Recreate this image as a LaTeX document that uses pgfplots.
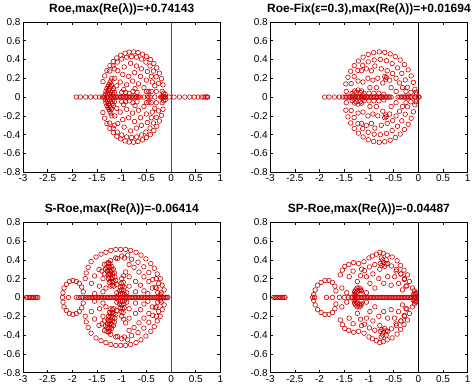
\documentclass[border=0pt]{standalone}
\usepackage{pgfplots}
\pgfplotsset{compat=1.18}
\usepackage{fontspec}
\setmainfont{Liberation Sans}
\definecolor{ered}{RGB}{205,0,0}
\pgfplotsset{myax/.style={
  width=198pt,height=151pt,scale only axis,
  xmin=-3,xmax=1,ymin=-0.8,ymax=0.8,
  xtick={-3,-2.5,-2,-1.5,-1,-0.5,0,0.5,1},
  ytick={-0.8,-0.6,-0.4,-0.2,0,0.2,0.4,0.6,0.8},
  tick align=inside, major tick length=3pt,
  tick style={black,line width=0.5pt},
  ticklabel style={font=\fontsize{10}{12}\selectfont},
  xticklabel style={yshift=1pt},
  yticklabel style={xshift=1pt},
  /pgf/number format/assume math mode=true,
  title style={font=\bfseries\fontsize{12}{14}\selectfont,yshift=-2.5pt},
  axis line style={line width=0.5pt},
  clip=true},
  eig/.style={only marks, mark=o, mark size=2.3pt, color=ered, mark options={line width=0.6pt}}
}
\begin{document}
\begin{tikzpicture}
\path (0,0) rectangle (474pt,-386pt);
% ---------- Plot 1
\begin{axis}[myax, at={(22pt,-19pt)}, anchor=north west,
  title={Roe,max(Re(λ))=+0.74143}]
\addplot[black!70, line width=0.9pt] coordinates {(0,-0.8) (0,0.8)};
\addplot[eig] coordinates {
(-1.92,0)(-1.84,0)(-1.73,0)(-1.63,0)(-1.53,0)(-1.45,0)(-1.39,0)(-1.35,0)(-1.32,0)(-1.29,0)(-1.26,0)(-1.23,0)(-1.20,0)(-1.17,0)(-1.14,0)(-1.11,0)(-1.08,0)(-1.05,0)(-1.02,0)(-0.99,0)(-0.96,0)(-0.93,0)(-0.90,0)(-0.87,0)(-0.84,0)(-0.81,0)(-0.78,0)(-0.75,0)(-0.72,0)(-0.69,0)(-0.66,0)(-0.62,0)(-0.55,0)(-0.48,0)(-0.45,0)(-0.42,0)(-0.33,0)(-0.21,0)(-0.19,0)(-0.17,0)(-0.15,0)(-0.13,0)(-0.11,0)(-0.04,0)(0.06,0)(0.17,0)(0.28,0)(0.38,0)(0.47,0)(0.55,0)(0.62,0)(0.67,0)(0.71,0)(0.735,0)(0.74143,0)
};
\addplot[eig] coordinates {
(-0.165,0.13)(-0.195,0.195)(-0.237,0.254)(-0.29,0.31)(-0.35,0.357)(-0.42,0.40)(-0.50,0.43)(-0.58,0.456)(-0.67,0.473)(-0.76,0.48)(-0.85,0.478)(-0.93,0.466)(-1.02,0.445)(-1.10,0.416)(-1.17,0.378)(-1.24,0.334)(-1.30,0.282)(-1.345,0.225)(-1.38,0.164)
(-0.255,0.147)(-0.30,0.215)(-0.356,0.276)(-0.427,0.33)(-0.51,0.372)(-0.60,0.404)(-0.70,0.424)(-0.80,0.43)(-0.90,0.424)(-1.00,0.404)(-1.09,0.372)(-1.173,0.33)(-1.244,0.276)
(-0.95,0.32)(-0.82,0.36)(-0.70,0.33)(-0.60,0.30)(-0.48,0.27)(-0.40,0.22)(-0.33,0.12)(-0.38,0.16)(-0.50,0.18)(-0.62,0.22)(-0.74,0.26)(-0.86,0.22)(-0.98,0.24)(-1.08,0.28)(-1.15,0.30)(-1.03,0.16)(-0.90,0.13)(-0.78,0.17)(-0.66,0.14)(-0.55,0.10)(-0.45,0.06)(-0.40,0.06)(-0.50,0.06)(-0.30,0.06)(-0.18,0.06)(-0.15,0.04)(-0.12,0.03)(-0.73,0.09)(-0.77,0.06)(-0.69,0.05)(-1.0,0.05)(-0.96,0.08)(-0.92,0.05)(-0.85,0.04)(-1.14,0.20)(-1.10,0.12)
(-1.33,0.03)(-1.32,0.06)(-1.30,0.09)(-1.28,0.11)(-1.26,0.13)(-1.24,0.15)(-1.22,0.17)(-1.20,0.20)(-1.29,0.04)(-1.27,0.07)(-1.25,0.09)(-1.23,0.11)(-1.21,0.13)(-1.25,0.03)(-1.22,0.05)(-1.19,0.07)(-1.17,0.09)(-1.18,0.03)(-1.15,0.05)
};
\addplot[eig] coordinates {
(-0.165,-0.13)(-0.195,-0.195)(-0.237,-0.254)(-0.29,-0.31)(-0.35,-0.357)(-0.42,-0.40)(-0.50,-0.43)(-0.58,-0.456)(-0.67,-0.473)(-0.76,-0.48)(-0.85,-0.478)(-0.93,-0.466)(-1.02,-0.445)(-1.10,-0.416)(-1.17,-0.378)(-1.24,-0.334)(-1.30,-0.282)(-1.345,-0.225)(-1.38,-0.164)
(-0.255,-0.147)(-0.30,-0.215)(-0.356,-0.276)(-0.427,-0.33)(-0.51,-0.372)(-0.60,-0.404)(-0.70,-0.424)(-0.80,-0.43)(-0.90,-0.424)(-1.00,-0.404)(-1.09,-0.372)(-1.173,-0.33)(-1.244,-0.276)
(-0.95,-0.32)(-0.82,-0.36)(-0.70,-0.33)(-0.60,-0.30)(-0.48,-0.27)(-0.40,-0.22)(-0.33,-0.12)(-0.38,-0.16)(-0.50,-0.18)(-0.62,-0.22)(-0.74,-0.26)(-0.86,-0.22)(-0.98,-0.24)(-1.08,-0.28)(-1.15,-0.30)(-1.03,-0.16)(-0.90,-0.13)(-0.78,-0.17)(-0.66,-0.14)(-0.55,-0.10)(-0.45,-0.06)(-0.40,-0.06)(-0.50,-0.06)(-0.30,-0.06)(-0.18,-0.06)(-0.15,-0.04)(-0.12,-0.03)(-0.73,-0.09)(-0.77,-0.06)(-0.69,-0.05)(-1.0,-0.05)(-0.96,-0.08)(-0.92,-0.05)(-0.85,-0.04)(-1.14,-0.20)(-1.10,-0.12)
(-1.33,-0.03)(-1.32,-0.06)(-1.30,-0.09)(-1.28,-0.11)(-1.26,-0.13)(-1.24,-0.15)(-1.22,-0.17)(-1.20,-0.20)(-1.29,-0.04)(-1.27,-0.07)(-1.25,-0.09)(-1.23,-0.11)(-1.21,-0.13)(-1.25,-0.03)(-1.22,-0.05)(-1.19,-0.07)(-1.17,-0.09)(-1.18,-0.03)(-1.15,-0.05)
};
\end{axis}
% ---------- Plot 2
\begin{axis}[myax, at={(270pt,-19pt)}, anchor=north west,
  title={Roe-Fix(ε=0.3),max(Re(λ))=+0.01694}]
\addplot[black, line width=0.5pt] coordinates {(0,-0.8) (0,0.8)};
\addplot[eig] coordinates {
(-1.90,0)(-1.81,0)(-1.70,0)(-1.60,0)(-1.53,0)(-1.48,0)(-1.45,0)(-1.42,0)(-1.39,0)(-1.36,0)(-1.33,0)(-1.30,0)(-1.27,0)(-1.24,0)(-1.21,0)(-1.18,0)(-1.15,0)(-1.12,0)(-1.09,0)(-1.06,0)(-1.03,0)(-1.00,0)(-0.97,0)(-0.94,0)(-0.91,0)(-0.88,0)(-0.85,0)(-0.82,0)(-0.79,0)(-0.76,0)(-0.73,0)(-0.70,0)(-0.67,0)(-0.64,0)(-0.61,0)(-0.58,0)(-0.55,0)(-0.41,0)(-0.37,0)(-0.34,0)(-0.31,0)(-0.28,0)(-0.25,0)(-0.22,0)(-0.19,0)(-0.16,0)(-0.13,0)(-0.06,0)(0.00,0)(0.01694,0)
};
\addplot[eig] coordinates {
(-0.07,0.083)(-0.10,0.156)(-0.144,0.225)(-0.205,0.289)(-0.28,0.345)(-0.367,0.393)(-0.465,0.43)(-0.57,0.459)(-0.68,0.475)(-0.79,0.48)(-0.905,0.473)(-1.015,0.454)(-1.118,0.424)(-1.213,0.383)(-1.298,0.334)(-1.37,0.275)(-1.427,0.21)(-1.468,0.14)
(-0.22,0.104)(-0.265,0.182)(-0.334,0.252)(-0.42,0.31)(-0.53,0.356)(-0.645,0.386)(-0.77,0.40)(-0.894,0.395)(-1.015,0.374)(-1.127,0.336)(-1.224,0.283)(-1.30,0.218)(-1.36,0.143)
(-1.15,0.28)(-1.05,0.30)(-0.95,0.28)(-0.88,0.33)(-0.75,0.30)(-0.63,0.28)(-0.52,0.25)(-0.45,0.20)(-0.38,0.15)(-0.32,0.10)(-0.58,0.18)(-0.65,0.21)(-0.66,0.19)(-0.68,0.22)(-0.72,0.15)(-0.82,0.20)(-0.92,0.18)(-1.02,0.20)(-1.12,0.16)(-1.22,0.17)(-0.85,0.10)(-0.98,0.10)(-0.55,0.10)(-0.45,0.06)(-0.25,0.06)(-0.15,0.05)(-0.05,0.05)(-0.04,0.03)(-1.46,0.06)(-0.9,0.04)(-0.8,0.04)(-0.7,0.03)(-1.0,0.04)
(-1.10,0.038)(-1.15,0.065)(-1.22,0.075)(-1.29,0.065)(-1.34,0.038)(-1.13,0.02)(-1.18,0.05)(-1.26,0.05)(-1.31,0.02)
};
\addplot[eig] coordinates {
(-0.07,-0.083)(-0.10,-0.156)(-0.144,-0.225)(-0.205,-0.289)(-0.28,-0.345)(-0.367,-0.393)(-0.465,-0.43)(-0.57,-0.459)(-0.68,-0.475)(-0.79,-0.48)(-0.905,-0.473)(-1.015,-0.454)(-1.118,-0.424)(-1.213,-0.383)(-1.298,-0.334)(-1.37,-0.275)(-1.427,-0.21)(-1.468,-0.14)
(-0.22,-0.104)(-0.265,-0.182)(-0.334,-0.252)(-0.42,-0.31)(-0.53,-0.356)(-0.645,-0.386)(-0.77,-0.40)(-0.894,-0.395)(-1.015,-0.374)(-1.127,-0.336)(-1.224,-0.283)(-1.30,-0.218)(-1.36,-0.143)
(-1.15,-0.28)(-1.05,-0.30)(-0.95,-0.28)(-0.88,-0.33)(-0.75,-0.30)(-0.63,-0.28)(-0.52,-0.25)(-0.45,-0.20)(-0.38,-0.15)(-0.32,-0.10)(-0.58,-0.18)(-0.65,-0.21)(-0.66,-0.19)(-0.68,-0.22)(-0.72,-0.15)(-0.82,-0.20)(-0.92,-0.18)(-1.02,-0.20)(-1.12,-0.16)(-1.22,-0.17)(-0.85,-0.10)(-0.98,-0.10)(-0.55,-0.10)(-0.45,-0.06)(-0.25,-0.06)(-0.15,-0.05)(-0.05,-0.05)(-0.04,-0.03)(-1.46,-0.06)(-0.9,-0.04)(-0.8,-0.04)(-0.7,-0.03)(-1.0,-0.04)
(-1.10,-0.038)(-1.15,-0.065)(-1.22,-0.075)(-1.29,-0.065)(-1.34,-0.038)(-1.13,-0.02)(-1.18,-0.05)(-1.26,-0.05)(-1.31,-0.02)
};
\end{axis}
% ---------- Plot 3
\begin{axis}[myax, at={(22pt,-220pt)}, anchor=north west,
  title={S-Roe,max(Re(λ))=-0.06414}]
\addplot[black!70, line width=0.9pt] coordinates {(0,-0.8) (0,0.8)};
\addplot[eig] coordinates {
(-2.93,0)(-2.90,0)(-2.87,0)(-2.84,0)(-2.81,0)(-2.78,0)(-2.75,0)(-2.72,0)(-2.70,0)(-2.20,0)(-2.08,0)(-1.92,0)(-1.87,0)(-1.82,0)(-1.78,0)(-1.74,0)(-1.71,0)(-1.68,0)(-1.65,0)(-1.62,0)(-1.59,0)(-1.56,0)(-1.53,0)(-1.50,0)(-1.47,0)(-1.44,0)(-1.41,0)(-1.38,0)(-1.35,0)(-1.32,0)(-1.29,0)(-1.26,0)(-1.23,0)(-1.20,0)(-1.17,0)(-1.14,0)(-1.11,0)(-1.08,0)(-1.05,0)(-1.02,0)(-0.99,0)(-0.96,0)(-0.93,0)(-0.90,0)(-0.87,0)(-0.84,0)(-0.81,0)(-0.78,0)(-0.75,0)(-0.72,0)(-0.69,0)(-0.66,0)(-0.63,0)(-0.60,0)(-0.57,0)(-0.54,0)(-0.51,0)(-0.48,0)(-0.45,0)(-0.42,0)(-0.39,0)(-0.36,0)(-0.33,0)(-0.30,0)(-0.27,0)(-0.24,0)(-0.21,0)(-0.18,0)(-0.15,0)(-0.12,0)(-0.10,0)(-0.08,0)(-0.06414,0)
};
\addplot[eig] coordinates {
(-2.19,0.05)(-2.17,0.10)(-2.12,0.14)(-2.06,0.17)(-1.99,0.18)(-1.92,0.17)(-1.86,0.15)(-1.81,0.11)(-1.78,0.06)
(-1.74,0.20)(-1.72,0.26)(-1.68,0.32)(-1.62,0.38)(-1.52,0.43)(-1.42,0.46)(-1.32,0.48)(-1.22,0.50)(-1.12,0.51)(-1.02,0.51)(-0.92,0.51)(-0.82,0.50)(-0.71,0.48)(-0.61,0.45)(-0.51,0.41)(-0.41,0.36)(-0.34,0.31)(-0.28,0.25)(-0.22,0.20)(-0.18,0.13)(-0.14,0.08)
(-0.32,0.109)(-0.374,0.19)(-0.45,0.264)(-0.552,0.326)(-0.67,0.374)(-0.80,0.406)(-0.945,0.42)(-1.086,0.415)(-1.223,0.392)(-1.35,0.352)(-1.46,0.297)(-1.55,0.229)(-1.615,0.15)
(-1.30,0.36)(-1.27,0.37)(-1.24,0.36)(-1.30,0.32)(-1.27,0.33)(-1.24,0.32)(-1.21,0.33)(-1.29,0.28)(-1.26,0.29)(-1.23,0.28)(-1.20,0.29)(-1.28,0.24)(-1.25,0.25)(-1.22,0.24)(-1.19,0.25)(-1.27,0.20)(-1.24,0.21)(-1.21,0.20)(-1.18,0.21)(-1.25,0.16)(-1.22,0.17)(-1.19,0.16)(-1.16,0.17)(-1.22,0.12)(-1.19,0.13)(-1.16,0.12)
(-1.33,0.30)(-1.35,0.25)(-1.14,0.22)(-1.12,0.18)(-1.10,0.14)(-1.17,0.30)(-1.15,0.26)
(-1.02,0.04)(-0.98,0.04)(-1.04,0.07)(-1.00,0.08)(-0.96,0.07)(-1.03,0.11)(-0.99,0.12)(-0.95,0.11)(-1.01,0.15)(-0.97,0.16)(-1.0,0.20)(-0.96,0.23)(-0.92,0.27)(-1.06,0.03)(-0.94,0.03)(-0.9,0.05)(-1.1,0.05)
(-1.45,0.12)(-1.38,0.20)(-1.40,0.28)(-1.12,0.42)(-1.0,0.44)(-0.85,0.35)(-0.75,0.32)(-0.65,0.27)(-0.55,0.22)(-0.45,0.17)(-0.38,0.10)(-0.30,0.10)(-0.25,0.15)(-0.27,0.05)(-0.22,0.03)(-0.20,0.05)(-0.62,0.13)(-0.72,0.17)(-0.85,0.22)(-0.85,0.12)(-0.72,0.06)(-0.55,0.07)(-0.47,0.04)(-1.38,0.06)(-1.55,0.04)(-1.32,0.10)(-0.30,0.20)(-0.88,0.45)
};
\addplot[eig] coordinates {
(-2.19,-0.05)(-2.17,-0.10)(-2.12,-0.14)(-2.06,-0.17)(-1.99,-0.18)(-1.92,-0.17)(-1.86,-0.15)(-1.81,-0.11)(-1.78,-0.06)
(-1.74,-0.20)(-1.72,-0.26)(-1.68,-0.32)(-1.62,-0.38)(-1.52,-0.43)(-1.42,-0.46)(-1.32,-0.48)(-1.22,-0.50)(-1.12,-0.51)(-1.02,-0.51)(-0.92,-0.51)(-0.82,-0.50)(-0.71,-0.48)(-0.61,-0.45)(-0.51,-0.41)(-0.41,-0.36)(-0.34,-0.31)(-0.28,-0.25)(-0.22,-0.20)(-0.18,-0.13)(-0.14,-0.08)
(-0.32,-0.109)(-0.374,-0.19)(-0.45,-0.264)(-0.552,-0.326)(-0.67,-0.374)(-0.80,-0.406)(-0.945,-0.42)(-1.086,-0.415)(-1.223,-0.392)(-1.35,-0.352)(-1.46,-0.297)(-1.55,-0.229)(-1.615,-0.15)
(-1.30,-0.36)(-1.27,-0.37)(-1.24,-0.36)(-1.30,-0.32)(-1.27,-0.33)(-1.24,-0.32)(-1.21,-0.33)(-1.29,-0.28)(-1.26,-0.29)(-1.23,-0.28)(-1.20,-0.29)(-1.28,-0.24)(-1.25,-0.25)(-1.22,-0.24)(-1.19,-0.25)(-1.27,-0.20)(-1.24,-0.21)(-1.21,-0.20)(-1.18,-0.21)(-1.25,-0.16)(-1.22,-0.17)(-1.19,-0.16)(-1.16,-0.17)(-1.22,-0.12)(-1.19,-0.13)(-1.16,-0.12)
(-1.33,-0.30)(-1.35,-0.25)(-1.14,-0.22)(-1.12,-0.18)(-1.10,-0.14)(-1.17,-0.30)(-1.15,-0.26)
(-1.02,-0.04)(-0.98,-0.04)(-1.04,-0.07)(-1.00,-0.08)(-0.96,-0.07)(-1.03,-0.11)(-0.99,-0.12)(-0.95,-0.11)(-1.01,-0.15)(-0.97,-0.16)(-1.0,-0.20)(-0.96,-0.23)(-0.92,-0.27)(-1.06,-0.03)(-0.94,-0.03)(-0.9,-0.05)(-1.1,-0.05)
(-1.45,-0.12)(-1.38,-0.20)(-1.40,-0.28)(-1.12,-0.42)(-1.0,-0.44)(-0.85,-0.35)(-0.75,-0.32)(-0.65,-0.27)(-0.55,-0.22)(-0.45,-0.17)(-0.38,-0.10)(-0.30,-0.10)(-0.25,-0.15)(-0.27,-0.05)(-0.22,-0.03)(-0.20,-0.05)(-0.62,-0.13)(-0.72,-0.17)(-0.85,-0.22)(-0.85,-0.12)(-0.72,-0.06)(-0.55,-0.07)(-0.47,-0.04)(-1.38,-0.06)(-1.55,-0.04)(-1.32,-0.10)(-0.30,-0.20)(-0.88,-0.45)
};
\end{axis}
% ---------- Plot 4
\begin{axis}[myax, at={(270pt,-220pt)}, anchor=north west,
  title={SP-Roe,max(Re(λ))=-0.04487}]
\addplot[black, line width=0.5pt] coordinates {(0,-0.8) (0,0.8)};
\addplot[eig] coordinates {
(-2.93,0)(-2.90,0)(-2.87,0)(-2.84,0)(-2.81,0)(-2.78,0)(-2.75,0)(-2.72,0)(-2.70,0)(-2.14,0)(-2.10,0)(-1.86,0)(-1.74,0)(-1.60,0)(-1.50,0)(-1.42,0)(-1.36,0)(-1.33,0)(-1.30,0)(-1.27,0)(-1.24,0)(-1.21,0)(-1.18,0)(-1.15,0)(-1.12,0)(-1.09,0)(-1.06,0)(-1.03,0)(-1.00,0)(-0.97,0)(-0.94,0)(-0.91,0)(-0.88,0)(-0.85,0)(-0.82,0)(-0.79,0)(-0.76,0)(-0.73,0)(-0.70,0)(-0.67,0)(-0.64,0)(-0.61,0)(-0.58,0)(-0.55,0)(-0.52,0)(-0.49,0)(-0.46,0)(-0.43,0)(-0.40,0)(-0.37,0)(-0.34,0)(-0.31,0)(-0.28,0)(-0.25,0)(-0.22,0)(-0.19,0)(-0.16,0)(-0.13,0)(-0.10,0)(-0.08,0)(-0.06,0)(-0.04487,0)
};
\addplot[eig] coordinates {
(-2.12,0.03)(-2.09,0.08)(-2.04,0.13)(-1.97,0.16)(-1.89,0.18)(-1.81,0.18)(-1.74,0.16)(-1.69,0.12)(-1.67,0.07)
(-1.58,0.24)(-1.54,0.29)(-1.49,0.33)(-1.41,0.35)(-1.31,0.37)(-1.21,0.36)(-1.10,0.38)(-1.00,0.42)(-0.93,0.44)(-0.85,0.46)(-0.78,0.48)(-0.71,0.47)(-0.63,0.45)(-0.53,0.43)(-0.43,0.39)(-0.36,0.34)(-0.29,0.29)(-0.22,0.24)(-0.18,0.17)(-0.12,0.10)(-0.07,0.04)
(-0.233,0.123)(-0.284,0.191)(-0.355,0.25)(-0.443,0.298)(-0.544,0.334)(-0.654,0.355)(-0.77,0.36)(-0.883,0.349)(-0.99,0.324)(-1.089,0.284)(-1.171,0.231)(-1.236,0.169)
(-0.75,0.42)(-0.72,0.40)(-0.70,0.37)(-0.74,0.34)(-0.68,0.33)(-0.65,0.40)(-0.62,0.36)(-0.78,0.30)
(-1.30,0.03)(-1.29,0.06)(-1.27,0.08)(-1.24,0.10)(-1.20,0.10)(-1.17,0.09)(-1.15,0.07)(-1.28,0.02)(-1.26,0.05)(-1.23,0.07)(-1.19,0.07)(-1.16,0.04)
(-1.55,0.10)(-1.45,0.05)(-1.40,0.22)(-1.32,0.28)(-1.15,0.30)(-1.05,0.22)(-0.98,0.15)(-0.92,0.25)(-0.88,0.10)(-0.80,0.20)(-0.70,0.15)(-0.62,0.22)(-0.55,0.13)(-0.48,0.22)(-0.40,0.15)(-0.32,0.08)(-0.25,0.12)(-0.08,0.07)(-0.06,0.03)(-0.05,0.05)(-0.10,0.03)(-1.05,0.05)(-0.45,0.28)(-0.28,0.20)(-0.35,0.25)
};
\addplot[eig] coordinates {
(-2.12,-0.03)(-2.09,-0.08)(-2.04,-0.13)(-1.97,-0.16)(-1.89,-0.18)(-1.81,-0.18)(-1.74,-0.16)(-1.69,-0.12)(-1.67,-0.07)
(-1.58,-0.24)(-1.54,-0.29)(-1.49,-0.33)(-1.41,-0.35)(-1.31,-0.37)(-1.21,-0.36)(-1.10,-0.38)(-1.00,-0.42)(-0.93,-0.44)(-0.85,-0.46)(-0.78,-0.48)(-0.71,-0.47)(-0.63,-0.45)(-0.53,-0.43)(-0.43,-0.39)(-0.36,-0.34)(-0.29,-0.29)(-0.22,-0.24)(-0.18,-0.17)(-0.12,-0.10)(-0.07,-0.04)
(-0.233,-0.123)(-0.284,-0.191)(-0.355,-0.25)(-0.443,-0.298)(-0.544,-0.334)(-0.654,-0.355)(-0.77,-0.36)(-0.883,-0.349)(-0.99,-0.324)(-1.089,-0.284)(-1.171,-0.231)(-1.236,-0.169)
(-0.75,-0.42)(-0.72,-0.40)(-0.70,-0.37)(-0.74,-0.34)(-0.68,-0.33)(-0.65,-0.40)(-0.62,-0.36)(-0.78,-0.30)
(-1.30,-0.03)(-1.29,-0.06)(-1.27,-0.08)(-1.24,-0.10)(-1.20,-0.10)(-1.17,-0.09)(-1.15,-0.07)(-1.28,-0.02)(-1.26,-0.05)(-1.23,-0.07)(-1.19,-0.07)(-1.16,-0.04)
(-1.55,-0.10)(-1.45,-0.05)(-1.40,-0.22)(-1.32,-0.28)(-1.15,-0.30)(-1.05,-0.22)(-0.98,-0.15)(-0.92,-0.25)(-0.88,-0.10)(-0.80,-0.20)(-0.70,-0.15)(-0.62,-0.22)(-0.55,-0.13)(-0.48,-0.22)(-0.40,-0.15)(-0.32,-0.08)(-0.25,-0.12)(-0.08,-0.07)(-0.06,-0.03)(-0.05,-0.05)(-0.10,-0.03)(-1.05,-0.05)(-0.45,-0.28)(-0.28,-0.20)(-0.35,-0.25)
};
\end{axis}
\end{tikzpicture}
\end{document}
